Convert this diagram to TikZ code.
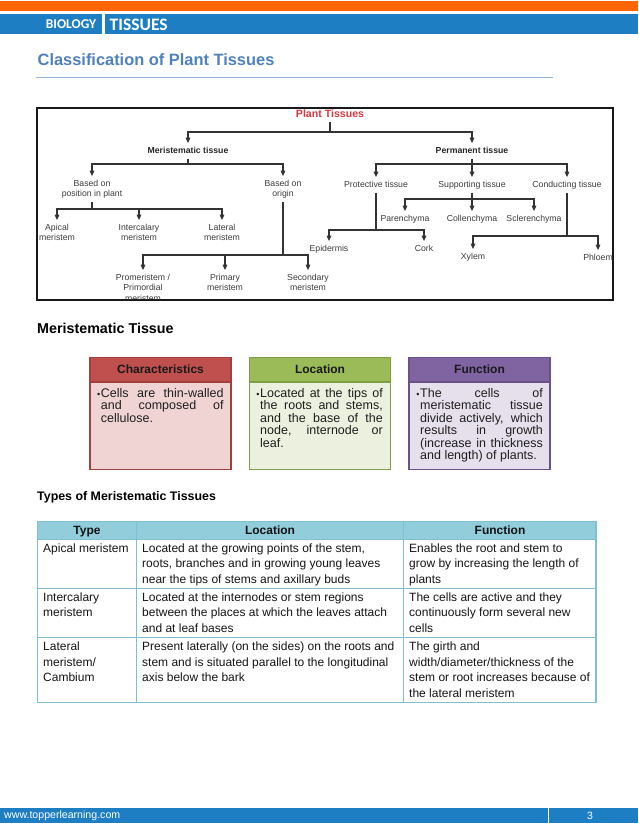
\documentclass[tikz,border=0pt]{standalone}
\usepackage{fontspec}
\setmainfont{Liberation Sans}
\newfontfamily\carl{Carlito}
\usetikzlibrary{arrows.meta}
\definecolor{orng}{HTML}{FF6600}
\definecolor{hblue}{HTML}{1E7EC4}
\definecolor{ttl}{HTML}{4F81BD}
\definecolor{ttlline}{HTML}{95B3D7}
\definecolor{lncol}{HTML}{333333}
\definecolor{txtc}{HTML}{3A3A3A}
\definecolor{ptred}{HTML}{D9363E}
\definecolor{redh}{HTML}{C0504D}\definecolor{redb}{HTML}{EFD4D3}\definecolor{redd}{HTML}{A33F3C}
\definecolor{grnh}{HTML}{9BBB59}\definecolor{grnb}{HTML}{EBF1DE}\definecolor{grnd}{HTML}{7F9E45}
\definecolor{purh}{HTML}{8064A2}\definecolor{purb}{HTML}{E5E0EC}\definecolor{purd}{HTML}{6A5188}
\definecolor{tblh}{HTML}{92CDDC}\definecolor{tbll}{HTML}{7DBFD3}
\begin{document}
\begin{tikzpicture}[x=1pt,y=-1pt,
  lab/.style={font=\fontsize{8.7}{10.7}\selectfont, text=txtc, inner xsep=1pt, inner ysep=3.5pt, text depth=1.9pt, anchor=base, align=center},
  l1/.style={lab, text height=6.3pt},
  l2/.style={lab, text height=17pt},
  l3/.style={lab, text height=27.7pt},
  lb/.style={l1, font=\fontsize{8.7}{10.7}\selectfont\bfseries, text=black!85},
  arr/.style={draw=lncol, line width=1.1pt, -{Triangle[width=4.6pt,length=5.5pt]}},
  hdr/.style={minimum width=141pt, minimum height=24pt, inner sep=0pt, line width=1.1pt, font=\fontsize{12}{14}\selectfont\bfseries, text=black!90},
  bodyb/.style={minimum width=141pt, minimum height=87pt, inner sep=0pt, line width=1.1pt, anchor=north},
  btxt/.style={font=\fontsize{12.5}{12.5}\selectfont, text=black!88, inner sep=0pt, anchor=base west, align=left},
  ctxt/.style={font=\fontsize{12}{15.7}\selectfont, text=black!92, inner sep=0pt, anchor=base west, align=left},
  chd/.style={font=\fontsize{12}{14}\selectfont\bfseries, text=black!92, inner sep=0pt, anchor=base},
  tbl/.style={draw=tbll, line width=1.1pt}
]
\useasboundingbox (0,0) rectangle (638,826);
% header bars
\fill[orng] (0,1) rectangle (638,11);
\fill[hblue] (0,14) rectangle (638,34);
\fill[white] (102,14) rectangle (105,34);
\node[text=white, font=\carl\bfseries\fontsize{13.5}{15}\selectfont, inner sep=0pt] (bio) at (71,24.5) {BIOLOGY};
\node[text=white, font=\carl\bfseries\fontsize{17.5}{19}\selectfont, inner sep=0pt, anchor=west] (tis) at (109.5,24.5) {TISSUES};
% title
\node[text=ttl, font=\fontsize{16.4}{18}\selectfont\bfseries, inner sep=0pt, anchor=base west] (title) at (37.5,65.9) {Classification of Plant Tissues};
\draw[ttlline, line width=0.9pt] (36,77) -- (553,77);

% diagram frame
\draw[black!90, line width=1.5pt] (37,108) rectangle (613,300);
\begin{scope}
\clip (37.8,108.8) rectangle (612.2,299.2);
\node[lab, font=\fontsize{10.6}{12}\selectfont\bfseries, text=ptred, text height=7.6pt, text depth=0pt, inner ysep=4pt] (pt) at (330,117.9) {Plant Tissues};
\node[lb] (mt) at (188,153.15) {Meristematic tissue};
\node[lb] (pm) at (472,153.15) {Permanent tissue};
\node[l2] (bp) at (92,196.85) {Based on\\position in plant};
\node[l2] (bo) at (283,196.85) {Based on\\origin};
\node[l2] (am) at (57,240.85) {Apical\\meristem};
\node[l2] (im) at (139,240.85) {Intercalary\\meristem};
\node[l2] (lm) at (222,240.85) {Lateral\\meristem};
\node[l3] (prm) at (143,301.55) {Promeristem /\\Primordial\\meristem};
\node[l2] (pym) at (225,290.85) {Primary\\meristem};
\node[l2] (sm) at (308,290.85) {Secondary\\meristem};
\node[l1] (pro) at (376,187.15) {Protective tissue};
\node[l1] (sup) at (472,187.15) {Supporting tissue};
\node[l1] (con) at (567,187.15) {Conducting tissue};
\node[l1] (par) at (405,221.15) {Parenchyma};
\node[l1] (col) at (472,221.15) {Collenchyma};
\node[l1] (scl) at (534,221.15) {Sclerenchyma};
\node[l1] (epi) at (329,251.15) {Epidermis};
\node[l1] (cork) at (424,251.15) {Cork};
\node[l1] (xyl) at (473,259.15) {Xylem};
\node[l1] (phl) at (598,260.15) {Phloem};
\end{scope}
\coordinate (j0) at (330,132);
\coordinate (jm) at (188,164);
\coordinate (jpm) at (472,164);
\coordinate (jp) at (92,209);
\coordinate (jo) at (283,255);
\coordinate (jpr) at (376,230);
\coordinate (js) at (472,199);
\coordinate (jc) at (567,236);
\draw[arr] (pt.south) -- (j0) -| (mt.north);
\draw[arr] (j0) -| (pm.north);
\draw[arr] (mt.south) -- (jm) -| (bp.north);
\draw[arr] (jm) -| (bo.north);
\draw[arr] (bp.south) -- (jp) -| (am.north);
\draw[arr] (jp) -| (im.north);
\draw[arr] (jp) -| (lm.north);
\draw[arr] (bo.south) -- (jo) -| (prm.north);
\draw[arr] (jo) -| (pym.north);
\draw[arr] (jo) -| (sm.north);
\draw[arr] (pm.south) -- (jpm) -| (pro.north);
\draw[arr] (jpm) -- (sup.north);
\draw[arr] (jpm) -| (con.north);
\draw[arr] (sup.south) -- (js) -| (par.north);
\draw[arr] (js) -- (col.north);
\draw[arr] (js) -| (scl.north);
\draw[arr] (pro.south) -- (jpr) -| (epi.north);
\draw[arr] (jpr) -| (cork.north);
\draw[arr] (con.south) -- (jc) -| (xyl.north);
\draw[arr] (jc) -| (phl.north);

% Meristematic Tissue heading
\node[font=\fontsize{14.3}{16}\selectfont\bfseries, inner sep=0pt, anchor=base west] (mth) at (37,333) {Meristematic Tissue};

% three boxes
\node[bodyb, fill=redb, draw=redd] (cb) at (160.5,382) {};
\node[hdr, fill=redh, draw=redd, anchor=south] (ch) at (cb.north) {Characteristics};
\node[bodyb, fill=grnb, draw=grnd] (lb) at (320,382) {};
\node[hdr, fill=grnh, draw=grnd, anchor=south] (lh) at (lb.north) {Location};
\node[bodyb, fill=purb, draw=purd] (fb) at (479.5,382) {};
\node[hdr, fill=purh, draw=purd, anchor=south] (fh) at (fb.north) {Function};

\node[btxt] (ct) at (100.7,422.2) {\llap{{\fontsize{9}{9}\selectfont•}\hspace{0.6pt}}\makebox[122.6pt][s]{Cells are thin-walled}\\\makebox[122.6pt][s]{and composed of}\\cellulose.};
\node[btxt] (lt) at (260,447.2) {\llap{{\fontsize{9}{9}\selectfont•}\hspace{0.6pt}}\makebox[122.6pt][s]{Located at the tips of}\\\makebox[122.6pt][s]{the roots and stems,}\\\makebox[122.6pt][s]{and the base of the}\\\makebox[122.6pt][s]{node, internode or}\\leaf.};
\node[btxt] (ft) at (420,459.7) {\llap{{\fontsize{9}{9}\selectfont•}\hspace{0.6pt}}\makebox[122.6pt][s]{The cells of}\\\makebox[122.6pt][s]{meristematic tissue}\\\makebox[122.6pt][s]{divide actively, which}\\\makebox[122.6pt][s]{results in growth}\\\makebox[122.6pt][s]{(increase in thickness}\\and length) of plants.};

% Types heading
\node[font=\fontsize{12.4}{14}\selectfont\bfseries, inner sep=0pt, anchor=base west] (tyh) at (37,500) {Types of Meristematic Tissues};

% table
\fill[tblh] (37.4,521.7) rectangle (596,539.3);
\draw[tbl] (37.4,539.3) -- (596,539.3);
\draw[tbl] (37.4,588.3) -- (596,588.3);
\draw[tbl] (37.4,637.7) -- (596,637.7);
\draw[tbl] (136.5,521.7) -- (136.5,702.7);
\draw[tbl] (403.7,521.7) -- (403.7,702.7);
\draw[tbl] (37.4,521.7) rectangle (596,702.7);
\node[chd] (th1) at (87,534.3) {Type};
\node[chd] (th2) at (270,534.3) {Location};
\node[chd] (th3) at (500,534.3) {Function};
\node[ctxt] (r1a) at (43,552) {Apical meristem};
\node[ctxt] (r1b) at (142,583.4) {Located at the growing points of the stem,\\roots, branches and in growing young leaves\\near the tips of stems and axillary buds};
\node[ctxt] (r1c) at (409,583.4) {Enables the root and stem to\\grow by increasing the length of\\plants};
\node[ctxt] (r2a) at (43,616.7) {Intercalary\\meristem};
\node[ctxt] (r2b) at (142,632.4) {Located at the internodes or stem regions\\between the places at which the leaves attach\\and at leaf bases};
\node[ctxt] (r2c) at (409,632.4) {The cells are active and they\\continuously form several new\\cells};
\node[ctxt] (r3a) at (43,681.7) {Lateral\\meristem/\\Cambium};
\node[ctxt] (r3b) at (142,681.7) {Present laterally (on the sides) on the roots and\\stem and is situated parallel to the longitudinal\\axis below the bark};
\node[ctxt] (r3c) at (409,697.4) {The girth and\\width/diameter/thickness of the\\stem or root increases because of\\the lateral meristem};

% footer
\fill[hblue] (0,808) rectangle (638,823);
\fill[white] (547.6,808) rectangle (549,823);
\node[text=white, font=\fontsize{10.6}{12}\selectfont, inner sep=0pt, anchor=west] (www) at (4,815.7) {www.topperlearning.com};
\node[text=white, font=\fontsize{10.6}{12}\selectfont, inner sep=0pt] (pg) at (590,815.7) {3};
\end{tikzpicture}
\end{document}
